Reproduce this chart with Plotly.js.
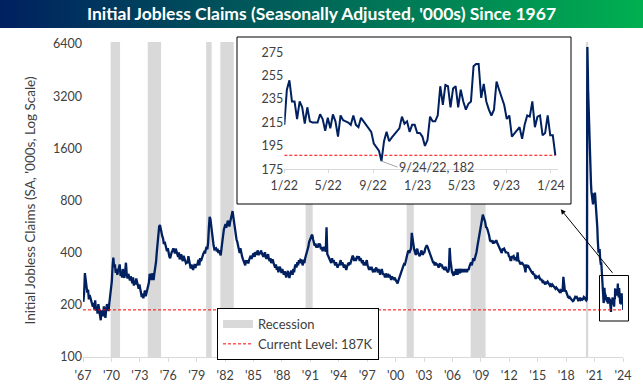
<!DOCTYPE html>
<html>
<head>
<meta charset="utf-8">
<script src="https://cdn.plot.ly/plotly-3.0.1.min.js"></script>
<style>html,body{margin:0;padding:0;background:#fff;}#chart{width:643px;height:389px;}</style>
</head>
<body>
<div id="chart"></div>
<script>
// ---------- DATA ----------
// Monthly readings 1967-01 .. 2020-02 (thousands, SA)
const histStart = [1967, 1];
const histVals = [
 208,235,305,280,250,235,245,215,228,218,210,200,   // 1967
 195,205,188,212,185,196,178,202,186,176,163,186,   // 1968
 180,172,196,184,168,190,202,194,184,206,222,245,   // 1969
 272,335,375,330,342,306,322,298,312,334,342,300,   // 1970
 302,288,322,298,286,312,350,298,284,302,288,276,   // 1971
 292,278,266,288,258,276,262,284,268,252,248,262,   // 1972
 238,234,222,232,218,238,242,224,236,246,258,268,   // 1973
 302,288,278,304,286,278,304,322,352,402,455,505,   // 1974
 565,578,540,522,498,482,448,462,438,418,408,424,   // 1975
 388,378,372,394,404,412,424,408,396,422,408,386,   // 1976
 378,402,366,382,392,368,358,384,366,358,348,352,   // 1977
 348,382,358,338,324,342,326,318,332,344,326,342,   // 1978
 338,352,364,338,372,358,374,382,394,402,396,414,   // 1979
 432,418,452,556,645,622,560,498,468,438,418,422,   // 1980
 424,406,422,398,412,398,386,424,452,502,545,566,   // 1981
 585,556,604,612,588,566,604,624,662,695,642,598,   // 1982
 538,502,478,462,438,432,398,424,388,382,368,358,   // 1983
 352,338,362,348,362,346,364,372,384,368,382,392,   // 1984
 394,378,404,388,402,412,386,404,392,412,398,388,   // 1985
 378,392,402,378,368,384,392,368,358,372,348,362,   // 1986
 362,348,338,328,342,318,332,308,322,332,318,306,   // 1987
 322,306,298,312,296,288,302,314,298,286,302,312,   // 1988
 312,298,322,308,334,342,328,352,338,362,348,364,   // 1989
 362,352,338,364,348,372,384,402,412,432,462,482,   // 1990
 486,502,508,478,462,438,452,428,442,428,452,438,   // 1991
 442,418,432,408,422,432,418,405,560,392,384,372,   // 1992
 362,358,348,372,352,362,348,338,352,338,328,342,   // 1993
 338,352,362,338,352,342,328,342,326,318,332,342,   // 1994
 338,352,342,362,372,384,378,358,372,358,372,382,   // 1995
 368,382,358,372,362,348,362,338,352,338,352,362,   // 1996
 338,328,318,332,318,332,318,308,322,308,322,328,   // 1997
 318,308,322,308,298,312,322,308,298,302,288,302,   // 1998
 298,288,302,288,298,288,278,292,282,288,278,282,   // 1999
 276,268,266,276,286,296,302,312,322,332,342,338,   // 2000
 352,372,384,402,412,398,412,422,520,478,438,418,   // 2001
 402,388,412,422,398,392,382,392,412,402,388,402,   // 2002
 402,422,432,442,432,418,408,398,388,378,358,352,   // 2003
 352,338,352,338,346,334,328,342,346,334,342,328,   // 2004
 328,318,326,332,318,314,308,322,426,362,318,308,   // 2005
 302,294,312,298,322,308,298,322,308,304,322,312,   // 2006
 308,322,308,322,308,322,308,322,318,332,342,352,   // 2007
 338,362,372,358,372,382,402,432,462,482,522,572,   // 2008
 598,628,662,642,622,602,562,558,542,528,502,472,   // 2009
 462,472,458,452,462,458,462,472,458,448,432,422,   // 2010
 418,402,398,422,418,422,408,402,402,398,398,382,   // 2011
 378,362,362,382,378,382,368,372,368,358,402,362,   // 2012
 358,348,342,352,348,342,338,328,308,342,328,338,   // 2013
 332,328,318,312,308,312,298,302,292,282,292,288,   // 2014
 288,292,282,278,282,272,268,272,268,262,272,268,   // 2015
 272,268,262,258,262,258,262,258,252,252,248,252,   // 2016
 248,242,242,238,242,238,242,238,290,242,238,242,   // 2017
 232,222,222,220,222,218,215,212,210,212,220,222,   // 2018
 220,222,218,210,215,220,214,216,214,216,222,220,   // 2019
 215,212                                            // 2020 Jan-Feb
];
// 2020-03 .. 2021-12 (pandemic period)
const covidDates = ['2020-03-07','2020-03-14','2020-03-21','2020-03-28','2020-04-04','2020-04-11','2020-04-18','2020-04-25',
 '2020-05-09','2020-05-23','2020-06-06','2020-06-20','2020-07-04','2020-07-18','2020-08-01','2020-08-15','2020-09-01','2020-09-15',
 '2020-10-01','2020-10-15','2020-11-01','2020-11-15','2020-12-01','2020-12-15','2021-01-01','2021-01-15','2021-02-01','2021-02-15',
 '2021-03-01','2021-03-15','2021-04-01','2021-04-15','2021-05-01','2021-05-15','2021-06-01','2021-06-15','2021-07-01','2021-07-15',
 '2021-08-01','2021-08-15','2021-09-01','2021-09-15','2021-10-01','2021-10-15','2021-11-01','2021-11-15','2021-12-01','2021-12-15'];
const covidVals = [215,252,2900,6150,6100,5000,4200,3500,
 2900,2300,1800,1500,1420,1300,1180,1000,900,870,
 830,800,760,780,880,860,840,890,820,800,
 760,700,600,560,480,450,400,410,400,420,
 370,350,340,352,320,290,268,232,222,205];
// Weekly readings from 2022-01-01 (inset)
const insetStart = '2022-01-01';
const insetVals = [213,243,251,233,233,218,233,228,214,228,216,215,215,215,222,218,208,219,210,222,
 216,203,221,217,216,215,213,221,213,211,219,216,214,210,207,197,194,191,182,199,
 207,199,202,205,207,210,220,214,216,207,213,213,206,206,203,195,200,220,216,216,
 221,246,230,247,246,228,244,246,228,243,233,226,231,233,263,265,265,236,248,233,
 226,221,226,250,243,236,230,218,221,203,206,208,211,201,213,221,220,233,211,220,
 221,204,206,221,204,204,187];
const currentLevel = 187;
const lowPoint = {date: '2022-09-24', value: 182, label: '9/24/22, 182'};
// Recessions (NBER)
const recStart = ['1969-12-01','1973-11-01','1980-01-01','1981-07-01','1990-07-01','2001-03-01','2007-12-01','2020-02-01'];
const recEnd   = ['1970-11-30','1975-03-31','1980-07-31','1982-11-30','1991-03-31','2001-11-30','2009-06-30','2020-04-30'];
// Tick labels
const mainYTicks = [100,200,400,800,1600,3200,6400];
const mainXTickYears = [1967,1970,1973,1976,1979,1982,1985,1988,1991,1994,1997,2000,2003,2006,2009,2012,2015,2018,2021,2024];
const insetYTicks = [175,195,215,235,255,275];
const insetXTicks = ['2022-01-01','2022-05-01','2022-09-01','2023-01-01','2023-05-01','2023-09-01','2024-01-01'];
const insetXLabels = ['1/22','5/22','9/22','1/23','5/23','9/23','1/24'];
const titleText = "Initial Jobless Claims (Seasonally Adjusted, '000s) Since 1967";
const yTitle = "Initial Jobless Claims (SA, '000s, Log Scale)";

// ---------- BUILD ----------
function pad(n){return (n<10?'0':'')+n;}
const histDates = histVals.map((v,i)=>{
  const m = histStart[1]-1+i; const y = histStart[0]+Math.floor(m/12);
  return y+'-'+pad(m%12+1)+'-15';
});
const insetDates = insetVals.map((v,i)=>{
  const d = new Date(insetStart+'T00:00:00Z'); d.setUTCDate(d.getUTCDate()+7*i);
  return d.toISOString().slice(0,10);
});
const allDates = histDates.concat(covidDates, insetDates);
const allVals = histVals.concat(covidVals, insetVals);

const navy = '#002060';
const FONT = 'Lato, "Open Sans", sans-serif';
const tickColor = '#404040';

// pixel helpers (plot area: x 83..623, y 44..357)
const L=83, R=20, T=44, B=32, W=643-L-R, H=389-T-B;
const px = x => (x-L)/W;
const py = y => (389-B-y)/H;

const redDash = {color:'#ff0000', width:1, dash:'3px,2px'};
const traces = [
  {x: allDates, y: allVals, type:'scatter', mode:'lines', line:{color:navy, width:2.3}, showlegend:false, hoverinfo:'skip'},
  {x:[null], y:[null], type:'scatter', mode:'lines', line:{color:'#d9d9d9', width:8}, name:'Recession', showlegend:true},
  {x:['1967-01-01','2024-01-01'], y:[currentLevel,currentLevel], type:'scatter', mode:'lines',
   line:redDash, name:'Current Level: '+currentLevel+'K', showlegend:true},
  {x:[insetDates[0], insetDates[insetDates.length-1]], y:[currentLevel,currentLevel], xaxis:'x2', yaxis:'y2', type:'scatter', mode:'lines',
   line:redDash, showlegend:false},
  {x: insetDates, y: insetVals, xaxis:'x2', yaxis:'y2', type:'scatter', mode:'lines', line:{color:navy, width:2}, showlegend:false}
];

const shapes = recStart.map((s,i)=>({type:'rect', xref:'x', yref:'paper', x0:s, x1:recEnd[i], y0:0, y1:1.006,
  fillcolor:'#d9d9d9', line:{width:0}, layer:'below'}));
// inset panel (white background with black border)
shapes.push({type:'rect', xref:'paper', yref:'paper', x0:px(237), x1:px(571), y0:py(204), y1:py(37),
  fillcolor:'#ffffff', line:{color:'#000', width:1}, layer:'below'});
// highlight box on main chart
shapes.push({type:'rect', xref:'paper', yref:'paper', x0:px(599.5), x1:px(628.5), y0:py(321), y1:py(275.5),
  fillcolor:'rgba(0,0,0,0)', line:{color:'#000', width:1}, layer:'above'});

const gradSvg = '<svg xmlns="http://www.w3.org/2000/svg" width="643" height="28" preserveAspectRatio="none">'+
  '<defs><linearGradient id="g" x1="0" y1="0" x2="1" y2="0"><stop offset="0" stop-color="#002060"/><stop offset="1" stop-color="#00B050"/></linearGradient></defs>'+
  '<rect width="643" height="28" fill="url(#g)"/></svg>';
const gradUri = 'data:image/svg+xml;base64,' + btoa(gradSvg);

const layout = {
  width:643, height:389,
  margin:{l:L, r:R, t:T, b:B},
  paper_bgcolor:'#ffffff', plot_bgcolor:'#ffffff',
  font:{family:FONT, color:tickColor, size:12.5},
  title:{text:'<b>'+titleText+'</b>', font:{family:FONT, size:17.5, color:'#ffffff'},
         xref:'container', x:0.5, xanchor:'center', yref:'container', y:1-14/389, yanchor:'middle'},
  images:[{source:gradUri, xref:'paper', yref:'paper', x:px(0), y:py(0), sizex:643/W, sizey:28/H,
           xanchor:'left', yanchor:'top', sizing:'stretch', layer:'below'}],
  xaxis:{type:'date', range:['1967-01-01','2024-01-01'],
         tickvals: mainXTickYears.map(y=>y+'-01-01'),
         ticktext: mainXTickYears.map(y=>"'"+String(y).slice(2)),
         showgrid:false, zeroline:false, showline:true, linecolor:'#d9d9d9', linewidth:1,
         ticks:'outside', ticklen:4, tickcolor:'#d9d9d9', tickfont:{size:12.5, color:tickColor},
         ticklabelstandoff:3, fixedrange:true},
  yaxis:{type:'log', range:[Math.log10(100), Math.log10(6400)], tickvals:mainYTicks, ticktext:mainYTicks.map(String),
         showgrid:false, zeroline:false, showline:false, ticks:'', tickfont:{size:12.5, color:tickColor},
         title:{text:yTitle, font:{size:13.5, color:tickColor}, standoff:14}, fixedrange:true},
  xaxis2:{type:'date', domain:[px(284.3), px(284.3+749*0.3653)], anchor:'y2', range:['2022-01-01','2024-01-20'],
          tickvals:insetXTicks, ticktext:insetXLabels, showgrid:false, zeroline:false, showline:true,
          linecolor:'#d9d9d9', linewidth:1, ticks:'outside', ticklen:3, tickcolor:'#d9d9d9',
          tickfont:{size:12.5, color:tickColor}, ticklabelstandoff:2, fixedrange:true},
  yaxis2:{domain:[py(169.3), py(46.45)], anchor:'x2', range:[175,280], tickvals:insetYTicks, ticktext:insetYTicks.map(String),
          showgrid:false, zeroline:false, showline:false, ticks:'', tickfont:{size:12.5, color:tickColor}, fixedrange:true},
  shapes: shapes,
  annotations:[
    {xref:'x2', yref:'y2', x:lowPoint.date, y:lowPoint.value, text:lowPoint.label, showarrow:true, arrowhead:0,
     arrowcolor:'#a6a6a6', arrowwidth:1, ax:16, ay:6, xanchor:'left', yanchor:'middle',
     font:{size:12.5, color:tickColor}},
    {xref:'paper', yref:'paper', x:px(560.7), y:py(209.3), text:'', showarrow:true, arrowhead:2, arrowsize:1,
     arrowwidth:1, arrowcolor:'#000', ax:53, ay:65}
  ],
  showlegend:true,
  legend:{x:px(217), y:py(308), xanchor:'left', yanchor:'top', bgcolor:'#ffffff', bordercolor:'#000', borderwidth:1,
          font:{size:13, color:tickColor}, orientation:'v', itemwidth:30, tracegroupgap:0}
};

Plotly.newPlot('chart', traces, layout, {displayModeBar:false, staticPlot:true});
</script>
</body>
</html>
